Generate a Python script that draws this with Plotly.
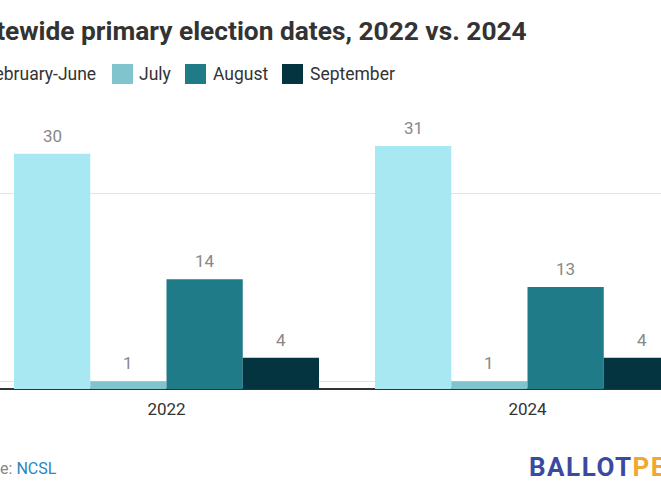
import plotly.graph_objects as go

# ---- data ----
years = ["2022", "2024"]
series_names = ["February-June", "July", "August", "September"]
feb_june = [30, 31]
july = [1, 1]
august = [14, 13]
september = [4, 4]
series_values = [feb_june, july, august, september]
colors = ["#a8e8f2", "#80c4ce", "#1f7b88", "#04343f"]

title_text = "Statewide primary election dates, 2022 vs. 2024"
source_label = "Source: "
source_name = "NCSL"

# ---- geometry helpers (figure pixel -> paper) ----
W, H = 661, 496
ML, MR, MT, MB = 0, 0, 100, 107
PW, PH = W - ML - MR, H - MT - MB


def px2x(px):
    return (px - ML) / PW


def py2y(py):
    return (H - MB - py) / PH


BARGAP = 0.155
ncat = len(years)
xs = list(range(ncat))

fig = go.Figure()
for name, vals, col in zip(series_names, series_values, colors):
    fig.add_trace(go.Bar(
        x=xs, y=vals, name=name, marker=dict(color=col, line=dict(width=0)),
        showlegend=False, hoverinfo="x+y+name",
    ))

annotations = []
# value labels above bars
nser = len(series_names)
bw = (1 - BARGAP) / nser
for k, vals in enumerate(series_values):
    for i, v in enumerate(vals):
        annotations.append(dict(
            x=xs[i] + (k - (nser - 1) / 2) * bw, y=v, xref="x", yref="y",
            text=str(v), showarrow=False, yanchor="middle", yshift=18,
            font=dict(family="Roboto", size=17, color="#888888"),
        ))

# title (right-anchored; the start is cut off by the page edge)
annotations.append(dict(
    x=px2x(529), y=py2y(31), xref="paper", yref="paper", xanchor="right",
    yanchor="middle", showarrow=False, text=title_text,
    font=dict(family="Roboto", size=26.3, color="#333333", weight=700),
))

# legend built from swatches + labels
sw_left = [None, 112, 185, 282]
txt_left = [None, 137, 211, 308]
shapes = []
for k, name in enumerate(series_names):
    if k == 0:
        annotations.append(dict(
            x=px2x(98), y=py2y(74), xref="paper", yref="paper", xanchor="right",
            yanchor="middle", showarrow=False, text=name,
            font=dict(family="Roboto", size=17.5, color="#333333"),
        ))
        left = -22
    else:
        annotations.append(dict(
            x=px2x(txt_left[k]), y=py2y(74), xref="paper", yref="paper",
            xanchor="left", yanchor="middle", showarrow=False, text=name,
            font=dict(family="Roboto", size=17.5, color="#333333"),
        ))
        left = sw_left[k]
    shapes.append(dict(
        type="rect", xref="paper", yref="paper",
        x0=px2x(left), x1=px2x(left + 21), y0=py2y(84), y1=py2y(64),
        fillcolor=colors[k], line=dict(width=0), layer="above",
    ))

# source note
annotations.append(dict(
    x=px2x(59), y=py2y(468), xref="paper", yref="paper", xanchor="right",
    yanchor="middle", showarrow=False,
    text=source_label + "<span style='color:#2a86c0'>" + source_name + "</span>",
    font=dict(family="Roboto", size=16, color="#888888"),
))
# logo text
annotations.append(dict(
    x=px2x(527), y=py2y(467), xref="paper", yref="paper", xanchor="left",
    yanchor="middle", showarrow=False,
    text="<b><span style='color:#3b4aa0;letter-spacing:1.5px'>BALLOT</span>"
         "<span style='color:#f0a833;letter-spacing:1.5px'>PEDIA</span></b>",
    font=dict(family="Roboto", size=26),
))

ymax = PH / 7.84
xleft = -(166.5 - ML) / 361
xright = xleft + PW / 361

fig.update_layout(
    width=W, height=H,
    margin=dict(l=ML, r=MR, t=MT, b=MB, pad=0),
    paper_bgcolor="white", plot_bgcolor="white",
    barmode="group", bargap=BARGAP, bargroupgap=0,
    annotations=annotations, shapes=shapes,
    showlegend=False,
    xaxis=dict(
        range=[xleft, xright], tickmode="array", tickvals=xs, ticktext=years,
        showgrid=False, zeroline=False, showline=False, ticks="",
        tickfont=dict(family="Roboto", size=17, color="#333333"),
        ticklabelstandoff=8, fixedrange=True,
    ),
    yaxis=dict(
        range=[0, ymax], tickmode="array", tickvals=[1, 25],
        showticklabels=False, showgrid=True, gridcolor="#e3e3e3", gridwidth=1,
        zeroline=True, zerolinecolor="#333333", zerolinewidth=1.5,
        showline=False, ticks="", fixedrange=True,
    ),
)

fig.write_html(
    "out.html",
    config={"displayModeBar": False},
    post_script="document.body.style.margin='0';document.body.style.overflow='hidden';",
)
